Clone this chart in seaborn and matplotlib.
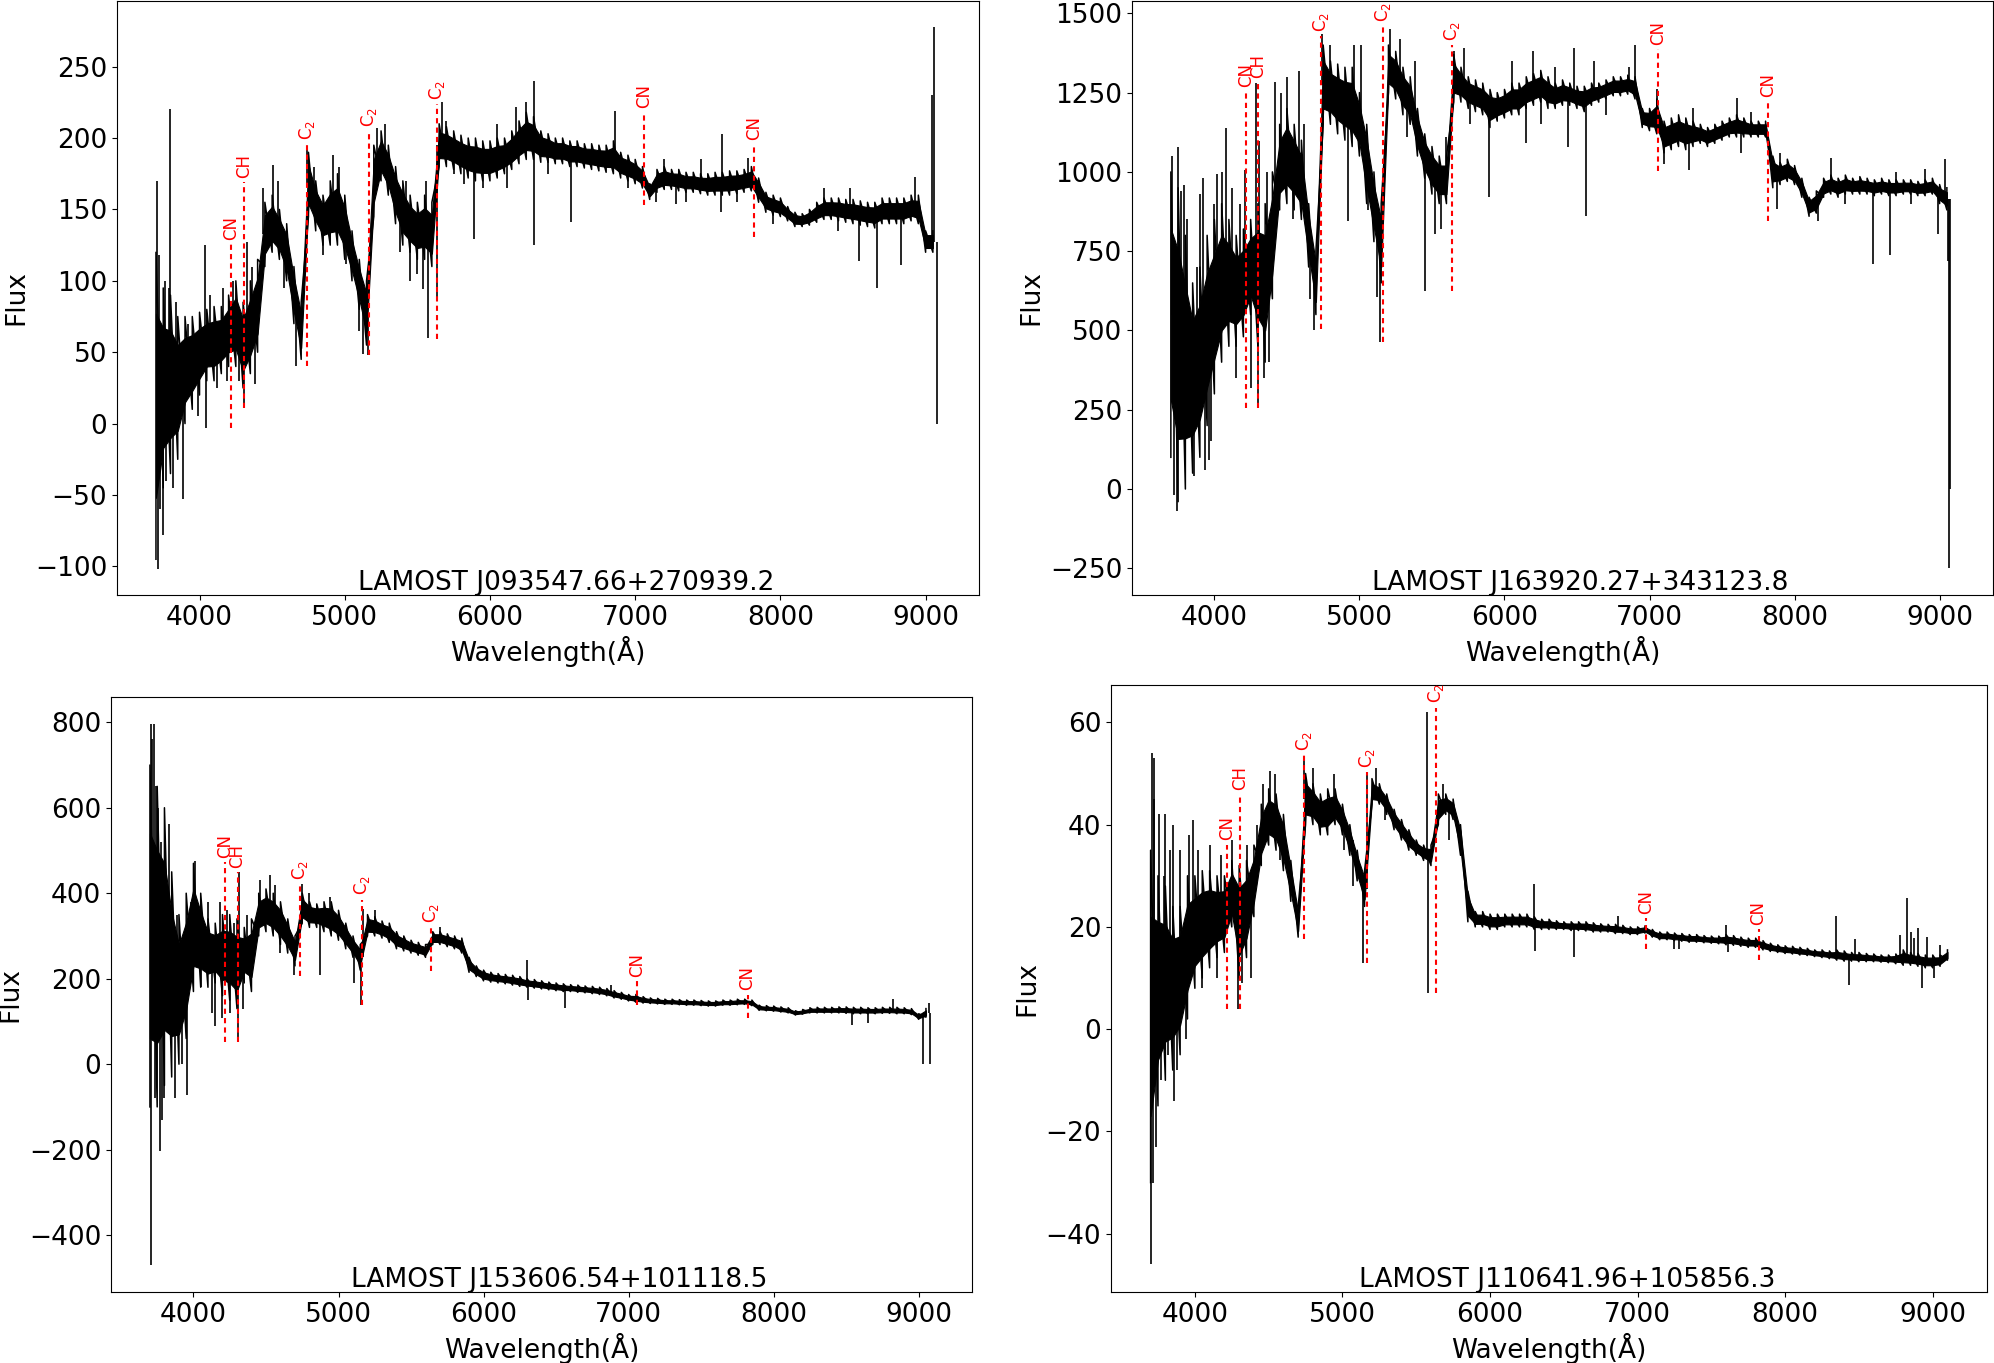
import numpy as np
import matplotlib
matplotlib.use('Agg')
import matplotlib.pyplot as plt
from matplotlib.ticker import MultipleLocator
import seaborn as sns

nan = np.nan

# sampling grid (Angstrom) where the upper / lower edge of each spectrum was read
wave = np.arange(3700, 9101, 50)

# molecular band markers
band_wave = [4216, 4304, 4737, 5165, 5636, 7060, 7820]
band_label = ['CN', 'CH', 'C$_2$', 'C$_2$', 'C$_2$', 'CN', 'CN']

# ---- LAMOST J093547.66+270939.2
j0935_hi = [120, 95, 90, 75, 75, 75, 78, 80, 82, 82,
            90, 100, 85, 100, 115, 155, 160, 150, 140, 110,
            85, 190, 170, 160, 170, 175, 160, 135, 115, 100,
            195, 205, 195, 180, 170, 160, 155, 160, 155, 210,
            208, 205, 202, 200, 200, 198, 198, 200, 200, 205,
            212, 218, 215, 205, 203, 200, 200, 198, 198, 196,
            196, 195, 195, 198, 190, 188, 185, 180, 168, 178,
            180, 178, 178, 176, 176, 175, 175, 176, 176, 177,
            177, 178, 180, 172, 162, 160, 158, 152, 148, 147,
            150, 155, 158, 158, 158, 157, 157, 156, 155, 155,
            158, 158, 158, 158, 160, 160, 135, 135, nan]
j0935_lo = [-95, -45, -35, -25, 0, 10, 20, 30, 30, 35,
            40, 40, 25, 35, 50, 110, 120, 115, 100, 70,
            45, 145, 135, 125, 125, 125, 115, 100, 80, 55,
            145, 170, 160, 140, 125, 120, 115, 115, 110, 180,
            180, 178, 175, 172, 170, 170, 170, 172, 175, 178,
            182, 185, 185, 183, 183, 182, 182, 180, 180, 179,
            178, 177, 176, 175, 172, 170, 168, 165, 157, 162,
            164, 164, 163, 162, 162, 161, 160, 160, 160, 160,
            161, 162, 163, 155, 148, 146, 145, 142, 138, 138,
            139, 141, 143, 143, 142, 141, 140, 139, 138, 137,
            140, 140, 140, 140, 142, 140, 120, 120, nan]
j0935_spike_wave = [3705, 3712, 3722, 3730, 3745, 3760, 3770, 3790, 3798, 3815,
                    3840, 3886, 3920, 3990, 4040, 4045, 4070, 4120, 4160, 4190,
                    4230, 4270, 4305, 4325, 4360, 4380, 4440, 4505, 4540, 4580,
                    4667, 4742, 4790, 4850, 4920, 4960, 5010, 5100, 5128, 5159,
                    5225, 5280, 5380, 5420, 5450, 5500, 5536, 5560, 5576, 5637,
                    5668, 5700, 5750, 5820, 5888, 5950, 6050, 6120, 6180, 6250,
                    6300, 6305, 6400, 6560, 6862, 6950, 7140, 7200, 7280, 7350,
                    7450, 7590, 7600, 7700, 7780, 7950, 8300, 8400, 8480, 8540,
                    8662, 8829, 8925, 9045, 9055, 9080]
j0935_spike_flux = [170, -102, 118, -60, -78, 100, -40, 95, 220, -45,
                    85, -53, 70, 5, 125, -3, 90, 25, 95, 30,
                    100, 30, 12, 127, 110, 28, 165, 181, 170, 95,
                    40, 194, 180, 118, 188, 180, 112, 65, 49, 48,
                    207, 210, 120, 170, 100, 105, 94, 170, 60, 88,
                    225, 212, 175, 168, 129, 165, 210, 165, 222, 225,
                    125, 240, 175, 141, 219, 165, 155, 185, 154, 155,
                    185, 148, 203, 155, 186, 140, 165, 135, 165, 114,
                    95, 111, 173, 230, 278, 0]
j0935_band_lo = [-3, 11, 40, 48, 59, 153, 131]
j0935_band_hi = [126, 169, 196, 205, 224, 218, 196]

# ---- LAMOST J163920.27+343123.8
j1639_hi = [1000, 950, 800, 650, 700, 800, 850, 900, 850, 800,
            820, 850, 900, 900, 1000, 1150, 1200, 1150, 1100, 900,
            750, 1400, 1350, 1340, 1330, 1330, 1250, 1150, 1000, 900,
            1400, 1380, 1330, 1300, 1200, 1120, 1080, 1050, 1050, 1370,
            1330, 1300, 1290, 1280, 1260, 1250, 1260, 1280, 1280, 1300,
            1310, 1320, 1300, 1280, 1290, 1280, 1270, 1270, 1280, 1280,
            1290, 1300, 1300, 1305, 1300, 1200, 1200, 1230, 1160, 1170,
            1180, 1170, 1160, 1150, 1140, 1150, 1160, 1170, 1180, 1170,
            1160, 1160, 1160, 1050, 1030, 1040, 1020, 980, 920, 940,
            980, 990, 980, 990, 980, 985, 980, 975, 980, 975,
            975, 975, 975, 970, 975, 980, 960, 950, nan]
j1639_lo = [100, -40, 0, 50, 100, 200, 300, 400, 450, 450,
            480, 550, 450, 400, 600, 880, 900, 880, 850, 700,
            550, 1150, 1150, 1120, 1100, 1080, 1050, 900, 780, 650,
            1250, 1230, 1180, 1150, 1050, 980, 930, 900, 900, 1220,
            1220, 1200, 1190, 1180, 1140, 1160, 1170, 1180, 1180, 1200,
            1210, 1220, 1200, 1200, 1210, 1210, 1200, 1190, 1210, 1220,
            1230, 1240, 1240, 1245, 1230, 1140, 1130, 1120, 1060, 1070,
            1080, 1070, 1080, 1090, 1080, 1090, 1100, 1110, 1110, 1110,
            1110, 1110, 1110, 950, 960, 970, 960, 920, 860, 870,
            920, 930, 920, 930, 930, 930, 930, 925, 930, 925,
            925, 930, 930, 925, 925, 930, 900, 880, nan]
j1639_spike_wave = [3705, 3720, 3740, 3750, 3770, 3790, 3810, 3860, 3880, 3900,
                    3920, 3935, 3960, 3980, 4000, 4020, 4050, 4080, 4120, 4150,
                    4180, 4210, 4250, 4290, 4300, 4310, 4340, 4360, 4380, 4420,
                    4460, 4500, 4540, 4580, 4620, 4660, 4690, 4745, 4800, 4920,
                    4960, 5010, 5060, 5120, 5140, 5210, 5280, 5330, 5380, 5450,
                    5520, 5560, 5600, 5650, 5720, 5760, 5890, 6050, 6150, 6200,
                    6250, 6350, 6440, 6480, 6560, 6620, 6700, 6860, 6900, 7050,
                    7100, 7270, 7300, 7600, 7630, 7700, 7880, 7900, 8160, 8250,
                    8350, 8540, 8660, 8700, 8800, 8900, 8990, 9040, 9060, 9068, 9072]
j1639_spike_flux = [1050, -20, -70, 1080, 940, 960, 850, 40, 700, 930,
                    980, 60, 90, 150, 900, 993, 1000, 1138, 950, 350,
                    900, 1006, 320, 1280, 257, 1098, 349, 1000, 400, 1285,
                    1250, 1300, 850, 1318, 1150, 600, 502, 1435, 1400, 846,
                    1400, 1400, 880, 607, 463, 1450, 1420, 1110, 1350, 623,
                    803, 820, 1110, 1380, 1390, 1150, 920, 1350, 1092, 1380,
                    1150, 1330, 1080, 1392, 861, 1350, 1180, 1330, 1400, 1260,
                    1024, 1005, 1200, 1232, 1061, 1190, 883, 1060, 844, 1045,
                    900, 709, 739, 1000, 900, 1010, 803, 1042, 720, -250, 0]
j1639_band_lo = [257, 257, 505, 463, 623, 1003, 844]
j1639_band_hi = [1255, 1282, 1429, 1460, 1400, 1386, 1224]

# ---- LAMOST J153606.54+101118.5
j1536_hi = [700, 650, 600, 450, 350, 400, 470, 400, 340, 330,
            350, 350, 340, 320, 340, 400, 410, 400, 380, 340,
            300, 400, 380, 375, 380, 380, 360, 330, 300, 280,
            350, 345, 335, 330, 310, 300, 290, 285, 280, 310,
            310, 305, 300, 295, 250, 230, 220, 215, 212, 210,
            208, 205, 200, 198, 195, 192, 190, 188, 186, 185,
            183, 182, 180, 177, 172, 168, 163, 163, 158, 155,
            154, 152, 152, 151, 150, 150, 149, 148, 148, 150,
            150, 152, 152, 150, 138, 137, 136, 134, 132, 125,
            128, 132, 133, 133, 133, 134, 134, 133, 133, 132,
            132, 133, 133, 133, 132, 130, 118, 130, nan]
j1536_lo = [-100, -100, -50, -30, 0, 60, 170, 180, 180, 190,
            160, 150, 130, 190, 170, 300, 310, 300, 280, 260,
            230, 330, 320, 320, 310, 300, 290, 270, 250, 220,
            300, 300, 295, 285, 270, 265, 260, 255, 250, 280,
            280, 275, 270, 260, 215, 205, 195, 192, 190, 188,
            185, 182, 180, 178, 176, 174, 172, 170, 170, 168,
            167, 165, 163, 160, 155, 152, 148, 145, 143, 142,
            141, 140, 140, 139, 138, 138, 137, 136, 136, 138,
            138, 139, 140, 137, 126, 125, 124, 122, 120, 115,
            117, 120, 120, 120, 120, 120, 119, 118, 118, 118,
            118, 119, 119, 118, 118, 116, 105, 110, nan]
j1536_spike_wave = [3706, 3708, 3715, 3726, 3735, 3745, 3755, 3768, 3775, 3785,
                    3795, 3810, 3833, 3850, 3873, 3890, 3920, 3956, 3980, 4009,
                    4050, 4100, 4130, 4150, 4180, 4195, 4230, 4250, 4280, 4305,
                    4315, 4340, 4370, 4460, 4530, 4560, 4600, 4690, 4750, 4800,
                    4870, 4940, 5110, 5155, 5170, 5250, 5700, 6300, 6305, 6560,
                    6880, 8540, 8650, 8820, 9030, 9070, 9080]
j1536_spike_flux = [797, -470, 760, 797, -80, 650, 600, -203, 520, -130,
                    -80, 420, 561, 400, -80, 350, 0, -73, 380, 476,
                    180, 380, 120, 89, 380, 107, 360, 120, 330, 52,
                    450, 130, 350, 430, 443, 420, 260, 209, 422, 400,
                    209, 390, 190, 138, 362, 360, 320, 244, 149, 131,
                    186, 92, 97, 152, 1, 144, 1]
j1536_band_lo = [52, 52, 207, 138, 217, 138, 109]
j1536_band_hi = [473, 450, 422, 385, 320, 195, 163]

# ---- LAMOST J110641.96+105856.3
j1106_hi = [35, 30, 28, 24, 24, 30, 30, 31, 31, 30,
            30, 33, 32, 33, 36, 44, 47, 46, 42, 33,
            24, 50, 48, 46, 47, 47, 44, 40, 35, 31,
            49, 48, 46, 43, 41, 39, 37, 36, 36, 46,
            46, 45, 40, 27, 23, 23, 22.5, 22.5, 22.5, 22.5,
            22.5, 22.5, 22, 21.5, 21.5, 21.2, 21, 21, 21, 21,
            20.8, 20.6, 20.5, 20.5, 20.3, 20, 20, 20.2, 19.5, 19,
            19, 18.8, 18.7, 18.5, 18.5, 18.3, 18.2, 18.2, 18.5, 18.3,
            18, 17.8, 17.8, 17.3, 16.8, 16.5, 16.3, 16.2, 16, 15.8,
            15.5, 15.5, 15.3, 15.5, 15.3, 15, 15, 14.8, 14.7, 14.5,
            14.5, 14.7, 15.5, 15, 14.8, 14.5, 14.5, 14.5, 15.5]
j1106_lo = [-30, -15, -10, -8, -5, 2, 8, 10, 12, 14,
            15, 20, 10, 14, 22, 32, 36, 35, 31, 25,
            18, 40, 40, 38, 38, 40, 38, 34, 29, 24,
            44, 44, 42, 39, 37, 35, 34, 33, 32, 40,
            42, 41, 34, 21, 20, 20, 19.5, 19.5, 20, 20,
            20, 20, 19.5, 19.5, 19.5, 19.5, 19.5, 19.3, 19.3, 19.2,
            19, 19, 19, 18.7, 18.7, 18.5, 18.5, 18.8, 18, 17.5,
            17.5, 17.3, 17.2, 17, 17, 16.9, 16.8, 16.7, 16.5, 16.4,
            16.2, 16, 16, 15.5, 15.2, 15, 14.8, 14.7, 14.5, 14.4,
            14.2, 14, 13.8, 13.5, 13.3, 13.3, 13.2, 13.2, 13.2, 13.1,
            13, 12.8, 12.5, 12.5, 12.3, 12, 12, 12.3, 13.5]
j1106_spike_wave = [3700, 3708, 3715, 3720, 3725, 3735, 3760, 3770, 3790, 3800,
                    3820, 3830, 3850, 3860, 3880, 3900, 3940, 3960, 3985, 4020,
                    4050, 4100, 4150, 4180, 4250, 4290, 4320, 4350, 4380, 4420,
                    4460, 4510, 4540, 4580, 4740, 4800, 4940, 5010, 5070, 5140,
                    5165, 5230, 5290, 5573, 5578, 5680, 5720, 6300, 6305, 6566,
                    6865, 7250, 7280, 7600, 7610, 8345, 8430, 8475, 8780, 8825,
                    8850, 8870, 8900, 8930, 8960, 9010, 9050]
j1106_spike_flux = [-46, 54, -30, 45, 53, -23, 42, -10, 30, 42,
                    -5, 35, 40, -14, -8, 35, -2, 38, 41, 35,
                    8, 36, 10, 34, 37, 4, 9, 36, 10, 40,
                    48, 50.5, 50, 33, 53.3, 51, 50, 35, 28, 13,
                    50, 51, 41, 62, 7, 48, 37, 28.4, 15.2, 14.1,
                    22.2, 15.6, 15.6, 20.3, 15, 22.2, 8.6, 17.6, 18.5, 25.7,
                    19.1, 17.8, 19.7, 8, 18, 10, 16.5]
j1106_band_lo = [4, 4, 17.6, 13, 7, 15.6, 13.6]
j1106_band_hi = [36.1, 46, 53.6, 50.3, 62.9, 21.8, 19.5]


def draw(ax, name, hi, lo, sw, sf, blo, bhi, ylim, ystep):
    hi = np.array(hi, dtype=float)
    lo = np.array(lo, dtype=float)
    mid = (hi + lo) / 2
    half = (hi - lo) / 2
    ok = ~np.isnan(mid)

    # dense core of the noisy spectrum, edges drawn as a jagged trace
    ax.fill_between(wave, mid - 0.6 * half, mid + 0.6 * half, color='black', lw=0.8)
    zx = np.repeat(wave, 2)
    zy = np.column_stack([lo, hi]).ravel()
    sns.lineplot(x=zx, y=zy, ax=ax, color='black', lw=1.1, sort=False, estimator=None)

    # single-pixel spikes
    idx = [np.argmin(np.where(ok, np.abs(wave - w), 1e9)) for w in sw]
    ax.vlines(sw, mid[idx], sf, color='black', lw=1.2)

    # band markers
    ax.vlines(band_wave, blo, bhi, colors='red', linestyles=(0, (2.5, 2)), lw=1.5)
    for w, lab, top in zip(band_wave, band_label, bhi):
        ax.annotate(lab, (w, top), xytext=(0, 3), textcoords='offset points',
                    rotation=90, ha='center', va='bottom', color='red', fontsize=12)

    ax.text(0.521, 0.0085, name, transform=ax.transAxes, ha='center', va='baseline', fontsize=19)
    ax.set_xlim(3432, 9368)
    ax.set_ylim(*ylim)
    ax.xaxis.set_major_locator(MultipleLocator(1000))
    ax.yaxis.set_major_locator(MultipleLocator(ystep))
    ax.set_xlabel('Wavelength(Å)', fontsize=19)
    ax.set_ylabel('Flux', fontsize=19)
    ax.tick_params(labelsize=19)


fig = plt.figure(figsize=(19.94, 13.63), dpi=100)
ax1 = fig.add_axes([0.0587, 0.5635, 0.4323, 0.4358])
ax2 = fig.add_axes([0.5677, 0.5635, 0.4318, 0.4358])
ax3 = fig.add_axes([0.0557, 0.0521, 0.4318, 0.4365])
ax4 = fig.add_axes([0.5572, 0.0521, 0.4393, 0.4453])

draw(ax1, 'LAMOST J093547.66+270939.2', j0935_hi, j0935_lo, j0935_spike_wave, j0935_spike_flux,
     j0935_band_lo, j0935_band_hi, (-120, 296), 50)
draw(ax2, 'LAMOST J163920.27+343123.8', j1639_hi, j1639_lo, j1639_spike_wave, j1639_spike_flux,
     j1639_band_lo, j1639_band_hi, (-334, 1539), 250)
draw(ax3, 'LAMOST J153606.54+101118.5', j1536_hi, j1536_lo, j1536_spike_wave, j1536_spike_flux,
     j1536_band_lo, j1536_band_hi, (-533, 859), 200)
draw(ax4, 'LAMOST J110641.96+105856.3', j1106_hi, j1106_lo, j1106_spike_wave, j1106_spike_flux,
     j1106_band_lo, j1106_band_hi, (-51.4, 67.3), 20)

plt.savefig('out.png', dpi=100)
